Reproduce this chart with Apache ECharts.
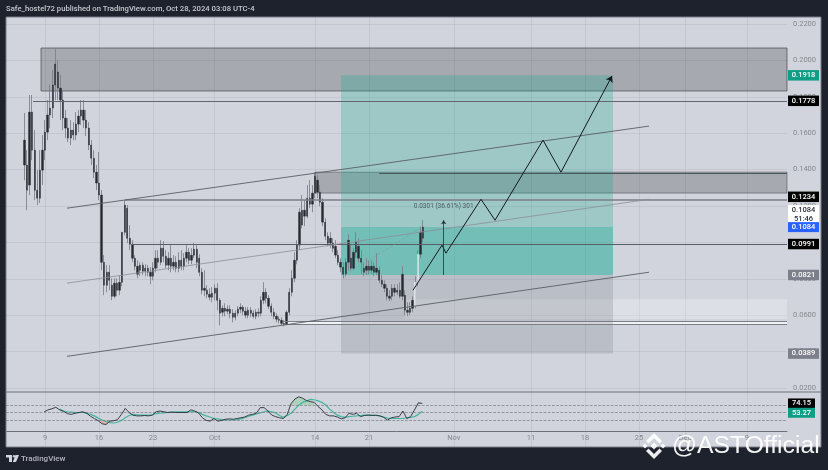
<!DOCTYPE html>
<html><head><meta charset="utf-8">
<style>html,body{margin:0;padding:0;background:#1e222d}#c{width:828px;height:470px}</style>
<script src="https://cdn.jsdelivr.net/npm/echarts@6/dist/echarts.min.js"></script>
</head><body><div id="c"></div>
<script>
// ---- data (x in days counted from 9 Sep, prices in USDT) ----
const firstCandleDay = -2.67, candleStepDays = 1 / 3;
const opens = [.1562,.1425,.1315,.1716,.1507,.1287,.1243,.1397,.1507,.1606,.1700,.1738,.1865,.1936,.1848,.1782,.1683,.1628,.1573,.1617,.1590,.1650,.1694,.1727,.1672,.1628,.1535,.1463,.1386,.1326,.1260,.0891,.0765,.0836,.0765,.0704,.0776,.0737,.0781,.1056,.1188,.1023,.0990,.0913,.0869,.0847,.0875,.0842,.0858,.0836,.0814,.0858,.0913,.0891,.0968,.0924,.0875,.0913,.0869,.0891,.0858,.0902,.0869,.0913,.0946,.0902,.0930,.0963,.0913,.0836,.0737,.0737,.0715,.0699,.0721,.0748,.0682,.0616,.0638,.0622,.0633,.0611,.0589,.0611,.0633,.0644,.0622,.0600,.0627,.0611,.0594,.0616,.0611,.0682,.0726,.0693,.0649,.0616,.0594,.0578,.0572,.0555,.0550,.0616,.0726,.0803,.0902,.0985,.1095,.1177,.1144,.1243,.1210,.1271,.1342,.1276,.1221,.1111,.1034,.0996,.0996,.0979,.0930,.0891,.0864,.0825,.0891,.0913,.0858,.0946,.0979,.0913,.0836,.0847,.0869,.0847,.0869,.0836,.0847,.0792,.0770,.0748,.0704,.0704,.0748,.0726,.0737,.0704,.0710,.0627,.0616,.0638,.0649,.0781,.0935,.1023];
const closes = [.1425,.1287,.1716,.1507,.1287,.1243,.1397,.1507,.1606,.1700,.1738,.1865,.1980,.1848,.1782,.1683,.1628,.1573,.1617,.1590,.1650,.1694,.1727,.1672,.1628,.1535,.1463,.1386,.1326,.1260,.0891,.0765,.0836,.0792,.0704,.0776,.0737,.0781,.1056,.1205,.1023,.0990,.0913,.0869,.0825,.0875,.0842,.0858,.0836,.0814,.0858,.0913,.0891,.0968,.0924,.0875,.0913,.0869,.0891,.0858,.0902,.0869,.0913,.0946,.0902,.0930,.0963,.0891,.0836,.0737,.0748,.0715,.0699,.0721,.0748,.0682,.0611,.0638,.0622,.0633,.0611,.0589,.0611,.0633,.0644,.0622,.0600,.0627,.0611,.0594,.0616,.0611,.0682,.0726,.0693,.0649,.0616,.0594,.0578,.0572,.0555,.0550,.0616,.0726,.0803,.0902,.0985,.1166,.1177,.1144,.1243,.1210,.1271,.1364,.1276,.1221,.1111,.1034,.0996,.1023,.0968,.0930,.0891,.0864,.0825,.0891,.1012,.0858,.0946,.1001,.0913,.0891,.0858,.0869,.0847,.0869,.0836,.0858,.0792,.0770,.0748,.0704,.0693,.0748,.0726,.0737,.0704,.0825,.0627,.0616,.0638,.0682,.0781,.0935,.1056,.1084];
const highs = [.1711,.1507,.1810,.1810,.1617,.1397,.1507,.1590,.1672,.1782,.1865,.1947,.2068,.2002,.1920,.1837,.1727,.1683,.1672,.1661,.1716,.1727,.1782,.1782,.1727,.1661,.1562,.1507,.1425,.1496,.1287,.0930,.0875,.0875,.0803,.0803,.0803,.0820,.1056,.1232,.1205,.1095,.1012,.0930,.0902,.0891,.0891,.0880,.0875,.0864,.0891,.0957,.0957,.1012,.1007,.0957,.0946,.0985,.0930,.0924,.0946,.0957,.0941,.0985,.0968,.0968,.0996,.0985,.0935,.0858,.0847,.0765,.0748,.0754,.0770,.0776,.0693,.0654,.0665,.0654,.0654,.0633,.0627,.0649,.0665,.0654,.0644,.0644,.0644,.0627,.0633,.0638,.0704,.0781,.0748,.0710,.0665,.0638,.0611,.0594,.0589,.0572,.0627,.0748,.0847,.0946,.1012,.1188,.1260,.1232,.1315,.1342,.1315,.1386,.1369,.1315,.1243,.1133,.1056,.1056,.1023,.1012,.0957,.0913,.0891,.0913,.1045,.0985,.0968,.1056,.1023,.0957,.0891,.0913,.0902,.0902,.0891,.0941,.0869,.0820,.0792,.0770,.0737,.0770,.0770,.0770,.0781,.0869,.0737,.0671,.0671,.0704,.0814,.0957,.1089,.1122];
const lows = [.1342,.1177,.1260,.1452,.1232,.1205,.1216,.1315,.1452,.1562,.1628,.1683,.1782,.1782,.1672,.1617,.1573,.1551,.1535,.1562,.1562,.1606,.1645,.1628,.1584,.1507,.1425,.1353,.1287,.1232,.0847,.0710,.0726,.0737,.0682,.0693,.0704,.0710,.0759,.1040,.0996,.0957,.0891,.0847,.0803,.0814,.0820,.0814,.0814,.0770,.0792,.0836,.0858,.0875,.0891,.0858,.0847,.0836,.0847,.0836,.0836,.0847,.0847,.0891,.0880,.0880,.0913,.0858,.0814,.0715,.0704,.0693,.0682,.0671,.0682,.0627,.0544,.0594,.0594,.0605,.0583,.0561,.0572,.0594,.0611,.0600,.0583,.0583,.0589,.0583,.0578,.0589,.0594,.0660,.0665,.0633,.0594,.0578,.0561,.0555,.0544,.0539,.0544,.0600,.0704,.0781,.0880,.0957,.1078,.1089,.1133,.1188,.1166,.1243,.1243,.1199,.1089,.1012,.0979,.0968,.0946,.0913,.0875,.0836,.0803,.0814,.0847,.0847,.0847,.0913,.0891,.0825,.0814,.0820,.0825,.0825,.0814,.0820,.0776,.0754,.0726,.0682,.0677,.0682,.0704,.0710,.0693,.0682,.0600,.0594,.0600,.0616,.0638,.0759,.0913,.1001];
const lightCandles = [152, 153];

const firstRsiDay = -0.1, rsiStepDays = 0.5, firstMaIndex = 4;
const rsi = [52,57,60,64,57,53,47,45,48,50,52,48,40,34,28,20,18,27,28,31,45,61,50,43,41,41,42,41,43,52,54,52,50,51,50,50,50,50,57,54,49,36,29,27,34,27,29,32,33,32,34,36,38,43,45,48,63,63,54,43,39,36,34,45,74,86,92,88,82,79,77,66,57,45,41,41,38,33,36,48,45,48,39,42,43,42,43,41,37,30,36,38,39,54,34,39,57,76,74.15];
const rsiMa = [59,54,52,51,50,50,50,48,45,41,35,30,26,23,22,24,29,36,42,45,44,43,43,43,44,47,48,49,50,51,52,52,52,52,52,52,50,45,41,38,34,33,31,30,30,30,31,33,36,40,43,46,49,52,54,52,49,42,37,42,48,59,70,77,81,85,84,81,77,70,59,50,43,39,37,39,40,41,42,43,43,43,42,41,38,35,34,34,34,34,36,37,39,45,53.27];
const rsiLevels = [70, 50, 30];

const dateTickDays = [0,7,14,22,35,42,53,63,70,77,83,91];
const dateTickLabels = ['9','16','23','Oct','14','21','Nov','11','18','25','Dec','9'];
const priceTicks = [0.02,0.04,0.06,0.08,0.10,0.12,0.14,0.16,0.18,0.20,0.22];

const zoneStart = [-0.52, 35, 46.67, 30.85, 38.37, 38.37, 38.37];
const zoneEnd   = [96.19, 96.19, 96.19, 96.19, 73.63, 73.63, 73.63];
const zoneTop   = [.2068, .1386, .0687, .0567, .1918, .1084, .0821];
const zoneBot   = [.1832, .1271, .0579, .0550, .0821, .0821, .0389];

const levelPrices = [.1778, .1234, .0991, .1381, .0567, .0550];
const levelStarts = [-1.56, 10.37, 11.28, 43.3, 30.85, 30.85];
const levelEnd = 96.19;

const channelStartDay = 2.85, channelEndDay = 78.3;
const channelStartPrices = [.1188, .0776, .0374];
const channelEndPrices   = [.1639, .1237, .0836];

const pathDays   = [47.7, 51.46, 51.98, 56.52, 58.34, 64.56, 66.89, 73.5];
const pathPrices = [.0737, .0985, .0941, .1237, .1122, .1562, .1386, .1914];
const measureDay = 51.68, measureFrom = .0821, measureTo = .1122;
const measureText = '0.0301 (36.61%) 301';
const fillGuide = [[38.89, .0821], [48.87, .1084]];

const priceTagValues = [.1918, .1778, .1234, .1084, .1084, .0991, .0821, .0389];
const priceTagTexts  = ['0.1918','0.1778','0.1234','0.1084\n51:46','0.1084','0.0991','0.0821','0.0389'];
const rsiTagValues = [74.15, 53.27];
const rsiTagTexts  = ['74.15','53.27'];

// ---- styles ----
const zoneColors = ['rgba(0,0,0,.2)','rgba(0,0,0,.2)','rgba(255,255,255,.25)','#f1f2f5','rgba(20,170,145,.28)','rgba(20,170,145,.3)','rgba(120,123,134,.25)'];
const zoneBorders = ['rgba(70,72,80,.7)','rgba(70,72,80,.55)',null,null,null,null,null];
const levelStyles = [['#63666f',1],['#7b7e88',1.6],['#5a5d66',1],['#4a5a5c',1],['#7a7d86',1],['#7a7d86',1]];
const channelStyles = [['#5a5d66',.9],['#8b8e98',.8],['#5a5d66',.9]];
const priceTagFill = ['#0f9d85','#000','#000','#fff','#2962ff','#000','#7d808b','#7d808b'];
const priceTagInk  = ['#fff','#fff','#fff','#2a2e39','#fff','#fff','#fff','#fff'];
const priceTagShift = [0,0,-3,-12.5,0,0,0,0];
const priceTagHeight = [10.5,10.5,10.5,19,10,10.5,10.5,10.5];
const rsiTagFill = ['#000','#0f9d85'];
const UI = 'Roboto, "Noto Sans", sans-serif';

const days = closes.map((_, i) => firstCandleDay + i * candleStepDays);
const rsiDays = rsi.map((_, i) => firstRsiDay + i * rsiStepDays);
const xMin = -5.06, xMax = 96.19;

function tagRenderer(texts, fills, inks, shifts, heights, width) {
  return function (params, api) {
    const i = params.dataIndex;
    const p = api.coord([xMax, api.value(0)]);
    const cy = p[1] + shifts[i], h = heights[i];
    return { type: 'group', children: [
      { type: 'rect', shape: { x: p[0] + 1, y: cy - h / 2, width: width, height: h }, style: { fill: fills[i] } },
      { type: 'text', style: { x: p[0] + 1 + width / 2, y: cy, text: texts[i], fill: inks[i], font: '500 7.5px ' + UI, align: 'center', verticalAlign: 'middle', lineHeight: 9 } }
    ] };
  };
}

const segments = [];
levelPrices.forEach((p, i) => segments.push({ coords: [[levelStarts[i], p], [levelEnd, p]], lineStyle: { color: levelStyles[i][0], width: levelStyles[i][1], opacity: 1 } }));
channelStartPrices.forEach((p, i) => segments.push({ coords: [[channelStartDay, p], [channelEndDay, channelEndPrices[i]]], lineStyle: { color: channelStyles[i][0], width: channelStyles[i][1], opacity: 1 } }));
segments.push({ coords: fillGuide, lineStyle: { color: '#7fa09f', width: .8, type: 'dashed', opacity: .8 } });

const forecast = [];
for (let i = 0; i + 1 < pathDays.length; i++) {
  const last = i + 2 === pathDays.length;
  forecast.push({ coords: [[pathDays[i], pathPrices[i]], [pathDays[i + 1], pathPrices[i + 1]]], symbol: last ? ['none', 'arrow'] : ['none', 'none'], symbolSize: 6, lineStyle: { color: '#16181d', width: 1, opacity: 1 } });
}
forecast.push({ coords: [[measureDay, measureFrom], [measureDay, measureTo]], symbol: ['none', 'arrow'], symbolSize: 4, lineStyle: { color: '#2a2e39', width: .8, opacity: 1 } });

const over = rsi.map((v, i) => v > 70 && i > 50 ? [rsiDays[i], v] : [rsiDays[i], null]);
const under = rsi.map((v, i) => v < 30 && i < 20 ? [rsiDays[i], v] : [rsiDays[i], null]);

const chart = echarts.init(document.getElementById('c'), null, { renderer: 'canvas', width: 828, height: 470 });
chart.setOption({
  animation: false,
  backgroundColor: '#1e222d',
  textStyle: { fontFamily: UI },
  title: { text: 'Safe_hostel72 published on TradingView.com, Oct 28, 2024 03:08 UTC-4', left: 1, top: 0, textStyle: { color: '#c6c8cf', fontSize: 7.7, fontWeight: 500, fontFamily: UI } },
  graphic: [
    { type: 'rect', z: -10, shape: { x: 6, y: 17, width: 815, height: 430 }, style: { fill: '#d1d4dc', stroke: '#787b86', lineWidth: 1 } },
    { type: 'line', z: 1, shape: { x1: 6, y1: 392, x2: 821, y2: 392 }, style: { stroke: '#6d707b', lineWidth: 1 } },
    { type: 'text', z: 30, style: { x: 21, y: 459, text: 'TradingView', fill: '#b2b5be', font: '500 8px ' + UI, verticalAlign: 'middle' } },
    { type: 'polygon', z: 30, shape: { points: [[6,455],[12,455],[12,462],[9,462],[9,457.5],[6,457.5]] }, style: { fill: '#d1d4dc' } },
    { type: 'circle', z: 30, shape: { cx: 14, cy: 456.3, r: 1.2 }, style: { fill: '#d1d4dc' } },
    { type: 'polygon', z: 30, shape: { points: [[15.5,455],[19,455],[16,462],[12.8,462]] }, style: { fill: '#d1d4dc' } },
    { type: 'polygon', z: 30, shape: { points: [[654,433],[662,441],[659.5,443.5],[654,438],[648.5,443.5],[646,441]] }, style: { fill: 'rgba(255,255,255,.92)' } },
    { type: 'polygon', z: 30, shape: { points: [[654,459],[662,451],[659.5,448.5],[654,454],[648.5,448.5],[646,451]] }, style: { fill: 'rgba(255,255,255,.92)' } },
    { type: 'polygon', z: 30, shape: { points: [[654,442.5],[657.5,446],[654,449.5],[650.5,446]] }, style: { fill: 'rgba(255,255,255,.92)' } },
    { type: 'polygon', z: 30, shape: { points: [[645,443.5],[647.5,446],[645,448.5],[642.5,446]] }, style: { fill: 'rgba(255,255,255,.92)' } },
    { type: 'polygon', z: 30, shape: { points: [[663,443.5],[665.5,446],[663,448.5],[660.5,446]] }, style: { fill: 'rgba(255,255,255,.92)' } },
    { type: 'text', z: 30, style: { x: 672, y: 446, text: '@ASTOfficial', fill: 'rgba(255,255,255,.94)', font: '24.7px "Liberation Sans", Arial, sans-serif', verticalAlign: 'middle', shadowColor: 'rgba(0,0,0,.35)', shadowBlur: 2 } }
  ],
  grid: [
    { left: 6, width: 781, top: 17, height: 375, containLabel: false },
    { left: 6, width: 781, top: 392, height: 55, containLabel: false }
  ],
  xAxis: [
    { type: 'value', gridIndex: 0, min: xMin, max: xMax, axisLabel: { show: false },
      axisTick: { show: false, customValues: dateTickDays }, axisLine: { show: false },
      splitLine: { show: true, lineStyle: { color: 'rgba(120,123,134,.14)', width: 1 } } },
    { type: 'value', gridIndex: 1, min: xMin, max: xMax,
      axisLabel: { inside: true, margin: 5, color: '#85888f', fontSize: 7.5, fontFamily: UI, customValues: dateTickDays, formatter: v => dateTickLabels[dateTickDays.indexOf(v)] ?? '', showMinLabel: true, showMaxLabel: true, hideOverlap: false },
      axisTick: { show: false, customValues: dateTickDays },
      axisLine: { show: true, lineStyle: { color: '#6d707b', width: 1 } },
      splitLine: { show: true, lineStyle: { color: 'rgba(120,123,134,.14)', width: 1 } } }
  ],
  yAxis: [
    { type: 'value', gridIndex: 0, position: 'right', min: 0.0178, max: 0.22385,
      axisLine: { show: false }, axisTick: { show: false, customValues: priceTicks },
      axisLabel: { color: '#85888f', fontSize: 7.5, fontFamily: UI, margin: 6, customValues: priceTicks, formatter: v => v.toFixed(4) },
      splitLine: { show: true, lineStyle: { color: 'rgba(120,123,134,.14)', width: 1 } } },
    { type: 'value', gridIndex: 1, position: 'right', min: -42, max: 104.7,
      axisLine: { show: false }, axisTick: { show: false }, axisLabel: { show: false }, splitLine: { show: false } }
  ],
  series: [
    { name: 'zones', type: 'custom', xAxisIndex: 0, yAxisIndex: 0, z: 1, silent: true,
      encode: { x: [0, 1], y: [2, 3] },
      data: zoneStart.map((s, i) => [s, zoneEnd[i], zoneTop[i], zoneBot[i]]),
      renderItem: (params, api) => {
        const i = params.dataIndex;
        const a = api.coord([api.value(0), api.value(2)]), b = api.coord([api.value(1), api.value(3)]);
        return { type: 'rect', shape: { x: a[0], y: a[1], width: b[0] - a[0], height: b[1] - a[1] },
          style: { fill: zoneColors[i], stroke: zoneBorders[i], lineWidth: zoneBorders[i] ? 1 : 0 } };
      } },
    { name: 'wicks', type: 'candlestick', xAxisIndex: 0, yAxisIndex: 0, z: 3, barWidth: 1,
      encode: { x: 0, y: [1, 2, 3, 4] },
      data: days.map((d, i) => [d, opens[i], closes[i], lows[i], highs[i]]),
      itemStyle: { color: '#7c7f89', color0: '#7c7f89', borderColor: '#7c7f89', borderColor0: '#7c7f89', borderWidth: 1, opacity: .85 } },
    { name: 'bodies', type: 'candlestick', xAxisIndex: 0, yAxisIndex: 0, z: 4, barWidth: 1.9,
      encode: { x: 0, y: [1, 2, 3, 4] },
      data: days.map((d, i) => {
        const value = [d, opens[i], closes[i], Math.min(opens[i], closes[i]), Math.max(opens[i], closes[i])];
        return lightCandles.includes(i) ? { value, itemStyle: { color: '#eef0f4', color0: '#eef0f4', borderColor: '#eef0f4', borderColor0: '#eef0f4' } } : { value };
      }),
      itemStyle: { color: '#26292f', color0: '#26292f', borderColor: '#26292f', borderColor0: '#26292f', borderWidth: .4 } },
    { name: 'levels', type: 'lines', coordinateSystem: 'cartesian2d', xAxisIndex: 0, yAxisIndex: 0, z: 5, silent: true, data: segments },
    { name: 'forecast', type: 'lines', coordinateSystem: 'cartesian2d', xAxisIndex: 0, yAxisIndex: 0, z: 6, silent: true, data: forecast },
    { name: 'measure', type: 'scatter', xAxisIndex: 0, yAxisIndex: 0, z: 7, symbolSize: 0, silent: true,
      data: [[measureDay, measureTo]],
      label: { show: true, position: 'top', distance: 10, offset: [0, 0], formatter: measureText, color: '#3b3f4a', fontSize: 6.5, fontFamily: UI } },
    { name: 'priceTags', type: 'custom', xAxisIndex: 0, yAxisIndex: 0, z: 10, clip: false, silent: true,
      encode: { y: 0 }, data: priceTagValues.map(v => [v]),
      renderItem: tagRenderer(priceTagTexts, priceTagFill, priceTagInk, priceTagShift, priceTagHeight, 31) },
    { name: 'overbought', type: 'line', xAxisIndex: 1, yAxisIndex: 1, z: 3, symbol: 'none', connectNulls: false, lineStyle: { width: 0 },
      areaStyle: { origin: 70, color: '#9fd0ac' }, data: over },
    { name: 'oversold', type: 'line', xAxisIndex: 1, yAxisIndex: 1, z: 3, symbol: 'none', connectNulls: false, lineStyle: { width: 0 },
      areaStyle: { origin: 30, color: '#e2a596' }, data: under },
    { name: 'RSI MA', type: 'line', xAxisIndex: 1, yAxisIndex: 1, z: 4, symbol: 'none', lineStyle: { color: '#45b5a2', width: 1.2 },
      data: rsiMa.map((v, i) => [rsiDays[i + firstMaIndex], v]) },
    { name: 'RSI', type: 'line', xAxisIndex: 1, yAxisIndex: 1, z: 5, symbol: 'none', lineStyle: { color: '#2a2e39', width: .9 },
      data: rsi.map((v, i) => [rsiDays[i], v]),
      markLine: { silent: true, symbol: 'none', animation: false, label: { show: false }, lineStyle: { color: '#787b86', width: .7, type: 'dashed' }, data: rsiLevels.map(v => ({ yAxis: v })) } },
    { name: 'rsiTags', type: 'custom', xAxisIndex: 1, yAxisIndex: 1, z: 10, clip: false, silent: true,
      encode: { y: 0 }, data: rsiTagValues.map(v => [v]),
      renderItem: tagRenderer(rsiTagTexts, rsiTagFill, ['#fff', '#fff'], [0, 1.5], [10, 10], 27) }
  ]
});
</script></body></html>
